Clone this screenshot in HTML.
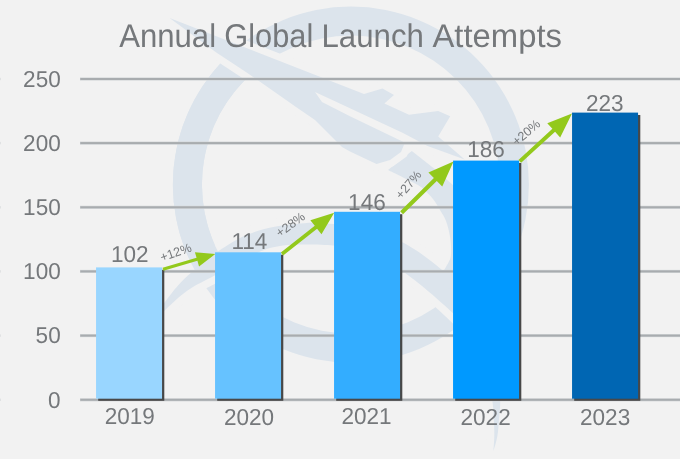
<!DOCTYPE html>
<html lang="en"><head><meta charset="utf-8"><title>Annual Global Launch Attempts</title>
<style>
html,body{margin:0;padding:0;background:#f2f2f2;}
body{width:680px;height:459px;overflow:hidden;}
svg{display:block;}
text{font-family:"Liberation Sans",Arial,Helvetica,sans-serif;fill:#75787b;text-rendering:geometricPrecision;}
</style></head><body>
<svg width="680" height="459" viewBox="0 0 680 459">
<rect width="680" height="459" fill="#f2f2f2"/>

<g fill="#dce4ec">
<path fill-rule="evenodd" d="M172.89999999999998 184.6 a178.0 178.0 0 1 0 356.0 0 a178.0 178.0 0 1 0 -356.0 0Z M201.89999999999998 184.6 a149.0 149.0 0 1 0 298.0 0 a149.0 149.0 0 1 0 -298.0 0Z"/>
<path d="M130 346 C135.7 338.9 156.0 313.3 164.0 303.2 C172.0 293.1 173.2 291.0 178.0 285.6 C182.8 280.2 186.7 276.4 193.0 271.0 C199.3 265.6 210.8 256.9 216.0 253.0 C221.2 249.1 220.0 250.0 224.0 247.5 C228.0 245.0 234.7 240.7 240.0 238.0 C245.3 235.3 250.7 233.3 256.0 231.5 C261.3 229.7 265.3 228.4 272.0 227.2 C278.7 225.9 288.0 224.7 296.0 224.0 C304.0 223.3 309.3 222.3 320.0 223.0 C330.7 223.7 346.3 224.8 360.0 228.0 C373.7 231.2 388.3 235.0 402.0 242.0 C415.7 249.0 430.7 260.3 442.0 270.0 C453.3 279.7 462.0 288.3 470.0 300.0 C478.0 311.7 485.3 326.7 490.0 340.0 C494.7 353.3 496.3 370.0 498.0 380.0 C499.7 390.0 500.0 393.5 500.2 400.0 C500.4 406.5 499.5 413.0 499.0 419.0 C498.5 425.0 498.3 430.6 497.4 436.0 C496.5 441.4 494.1 448.7 493.4 451.2 C493.5 448.7 494.2 441.4 494.3 436.0 C494.4 430.6 494.2 425.0 493.8 419.0 C493.4 413.0 493.5 407.8 492.2 400.0 C490.9 392.2 489.7 382.8 486.0 372.0 C482.3 361.2 475.6 344.9 470.0 335.0 C464.4 325.1 463.9 323.5 452.6 312.8 C441.3 302.1 417.4 281.1 402.0 271.0 C386.6 260.9 371.4 256.2 360.0 252.0 C348.6 247.8 346.3 246.7 333.5 245.6 C320.7 244.5 296.9 243.9 283.0 245.6 C269.1 247.3 261.4 251.0 250.0 256.0 C238.6 261.0 225.0 269.8 214.7 275.5 C204.4 281.2 196.8 284.1 188.3 290.0 C179.9 295.9 173.7 301.9 164.0 311.2 C154.3 320.5 135.7 340.2 130.0 346.0Z" stroke="#f2f2f2" stroke-width="15" stroke-linejoin="round" paint-order="stroke"/>
<path d="M196.7 273.6 A178.0 178.0 0 0 1 231.8 52.3 L251.2 73.9 A149.0 149.0 0 0 0 221.9 259.1Z"/>
<path d="M388.0 170.0 L411.8 151.0 L434.7 169.0 L470.0 200.0 L470.0 300.0 L438.0 282.0 L443.5 270.5 C443.8 270.1 444.1 270.4 445.2 268.3 C446.3 266.2 449.4 261.7 450.4 258.0 C451.4 254.3 451.1 249.9 451.0 246.0 C450.9 242.1 450.4 238.6 449.6 234.4 C448.8 230.2 447.6 225.1 446.0 221.0 C444.4 216.9 442.2 213.7 440.0 210.0 C437.8 206.3 435.6 202.3 433.0 199.0 C430.4 195.7 427.2 192.5 424.4 190.0 C421.6 187.5 422.1 187.3 416.0 184.0 C409.9 180.7 392.7 172.3 388.0 170.0Z"/>
<path d="M169.6 18.0 L364.0 94.0 L382.5 88.6 L394.0 95.0 L384.4 103.5 L409.0 114.8 L438.2 110.9 L450.2 116.2 L438.2 136.5 L464.7 159.4 L427.6 146.0 L403.0 133.0 L350.0 108.2 L315.0 92.0 L322.0 102.0 L350.0 116.2 L403.0 141.8 L404.5 143.5 L401.0 152.0 L390.0 160.0 L376.5 164.0 L350.0 151.5 L342.0 147.0 L315.0 120.0 L296.0 107.0 L247.4 73.0 L216.3 52.4Z" stroke="#f2f2f2" stroke-width="14" stroke-linejoin="miter" paint-order="stroke"/>
</g>
<rect x="80" y="398.25" width="600" height="3.1" fill="#d2d5d8"/>
<rect x="80.3" y="398.80" width="600" height="2.0" fill="#a8acaf"/>
<rect x="0" y="398.60" width="0.5" height="2.4" fill="#cfd2d4"/>
<rect x="80" y="334.05" width="600" height="3.1" fill="#d2d5d8"/>
<rect x="80.3" y="334.60" width="600" height="2.0" fill="#a8acaf"/>
<rect x="0" y="334.40" width="0.5" height="2.4" fill="#cfd2d4"/>
<rect x="80" y="269.85" width="600" height="3.1" fill="#d2d5d8"/>
<rect x="80.3" y="270.40" width="600" height="2.0" fill="#a8acaf"/>
<rect x="0" y="270.20" width="0.5" height="2.4" fill="#cfd2d4"/>
<rect x="80" y="205.75" width="600" height="3.1" fill="#d2d5d8"/>
<rect x="80.3" y="206.30" width="600" height="2.0" fill="#a8acaf"/>
<rect x="0" y="206.10" width="0.5" height="2.4" fill="#cfd2d4"/>
<rect x="80" y="141.55" width="600" height="3.1" fill="#d2d5d8"/>
<rect x="80.3" y="142.10" width="600" height="2.0" fill="#a8acaf"/>
<rect x="0" y="141.90" width="0.5" height="2.4" fill="#cfd2d4"/>
<rect x="80" y="77.45" width="600" height="3.1" fill="#d2d5d8"/>
<rect x="80.3" y="78.00" width="600" height="2.0" fill="#a8acaf"/>
<rect x="0" y="77.80" width="0.5" height="2.4" fill="#cfd2d4"/>
<text id="ax0" transform="translate(48.10,407.68) scale(0.9800,1.0000)" font-size="23" text-anchor="start">0</text>
<text id="ax50" transform="translate(35.62,343.48) scale(0.9800,1.0000)" font-size="23" text-anchor="start">50</text>
<text id="ax100" transform="translate(23.10,279.38) scale(0.9800,1.0000)" font-size="23" text-anchor="start">100</text>
<text id="ax150" transform="translate(23.10,215.27) scale(0.9800,1.0000)" font-size="23" text-anchor="start">150</text>
<text id="ax200" transform="translate(23.10,151.08) scale(0.9800,1.0000)" font-size="23" text-anchor="start">200</text>
<text id="ax250" transform="translate(23.10,86.97) scale(0.9800,1.0000)" font-size="23" text-anchor="start">250</text>
<g id="title">
<text id="tw0" transform="translate(119.17,46.70) scale(0.9488,1.0000)" font-size="32.8" text-anchor="start">Annual</text>
<text id="tw1" transform="translate(224.26,46.70) scale(0.9383,1.0000)" font-size="32.8" text-anchor="start">Global</text>
<text id="tw2" transform="translate(321.47,46.70) scale(0.9513,1.0000)" font-size="32.8" text-anchor="start">Launch</text>
<text id="tw3" transform="translate(432.46,46.70) scale(1.0007,1.0000)" font-size="32.8" text-anchor="start">Attempts</text>
</g>
<rect x="98.2" y="269.80" width="66.1" height="131.00" fill="#484848"/>
<rect x="96.05" y="267.40" width="66" height="131.30" fill="#99d6ff"/>
<text id="v0" transform="translate(110.92,262.38) scale(0.9800,1.0000)" font-size="23" text-anchor="start">102</text>
<text id="y0" transform="translate(104.73,423.98) scale(0.9800,1.0000)" font-size="23" text-anchor="start">2019</text>
<rect x="217.2" y="254.70" width="66.1" height="146.10" fill="#484848"/>
<rect x="215.05" y="252.30" width="66" height="146.40" fill="#66c2ff"/>
<text id="v1" transform="translate(231.42,249.20) scale(0.9800,1.0000)" font-size="23" text-anchor="start">114</text>
<text id="y1" transform="translate(223.98,424.68) scale(0.9800,1.0000)" font-size="23" text-anchor="start">2020</text>
<rect x="336.2" y="214.20" width="66.1" height="186.60" fill="#484848"/>
<rect x="334.05" y="211.80" width="66" height="186.90" fill="#33adff"/>
<text id="v2" transform="translate(348.09,209.88) scale(0.9800,1.0000)" font-size="23" text-anchor="start">146</text>
<text id="y2" transform="translate(341.48,423.98) scale(0.9800,1.0000)" font-size="23" text-anchor="start">2021</text>
<rect x="455.2" y="163.00" width="66.1" height="237.80" fill="#484848"/>
<rect x="453.05" y="160.60" width="66" height="238.10" fill="#0099ff"/>
<text id="v3" transform="translate(467.29,156.97) scale(0.9800,1.0000)" font-size="23" text-anchor="start">186</text>
<text id="y3" transform="translate(460.53,424.88) scale(0.9800,1.0000)" font-size="23" text-anchor="start">2022</text>
<rect x="574.2" y="115.00" width="66.1" height="285.80" fill="#484848"/>
<rect x="572.05" y="112.60" width="66" height="286.10" fill="#0066b3"/>
<text id="v4" transform="translate(585.99,110.77) scale(0.9800,1.0000)" font-size="23" text-anchor="start">223</text>
<text id="y4" transform="translate(580.05,424.87) scale(0.9800,1.0000)" font-size="23" text-anchor="start">2023</text>
<polygon fill="#93c91c" points="163.43,270.66 197.42,260.78 199.05,266.38 215.30,254.00 194.94,252.26 196.57,257.86 162.57,267.74"/>
<text transform="translate(175.70,252.30) rotate(-19.50)" font-size="12.5" text-anchor="middle" y="4.3" fill="#808386">+12%</text>
<polygon fill="#93c91c" points="283.15,255.46 317.08,228.68 321.49,234.27 334.20,212.80 310.37,220.17 314.78,225.76 280.85,252.54"/>
<text transform="translate(290.40,224.50) rotate(-36.00)" font-size="12.5" text-anchor="middle" y="4.3" fill="#808386">+28%</text>
<polygon fill="#93c91c" points="403.03,214.25 436.77,180.97 442.25,186.53 453.50,161.60 428.42,172.51 433.90,178.07 400.17,211.35"/>
<text transform="translate(408.40,184.50) rotate(-50.00)" font-size="12.5" text-anchor="middle" y="4.3" fill="#808386">+27%</text>
<polygon fill="#93c91c" points="521.14,162.86 555.07,131.79 560.18,137.38 572.00,113.60 547.28,123.28 552.39,128.87 518.46,159.94"/>
<text transform="translate(526.20,132.50) rotate(-40.50)" font-size="12.5" text-anchor="middle" y="4.3" fill="#808386">+20%</text>
</svg>
</body></html>
